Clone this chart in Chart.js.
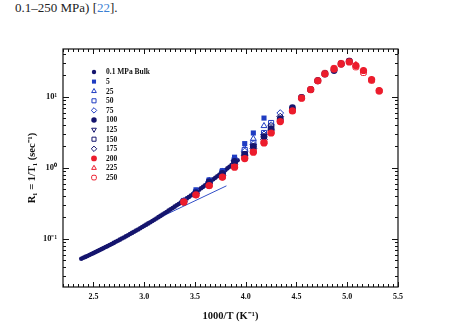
<!DOCTYPE html>
<html>
<head>
<meta charset="utf-8">
<script src="https://cdn.jsdelivr.net/npm/chart.js@4.4.1/dist/chart.umd.min.js"></script>
<style>
  html, body { margin: 0; padding: 0; background: #fff; }
  #wrap { position: absolute; left: 0; top: 0; width: 474px; height: 335px; }
  #caption { position: absolute; left: 15px; top: 0px; font: 13px "Liberation Serif", serif; color: #222; white-space: nowrap; }
  #caption .ref { color: #3b7fd4; }
</style>
</head>
<body>
<div id="caption">0.1–250 MPa) [<span class="ref">22</span>].</div>
<div id="wrap"><canvas id="c"></canvas></div>
<script>
// bulk water, 0.1 MPa (dense curve)
const bulkX = [2.38,2.40,2.42,2.44,2.46,2.48,2.50,2.52,2.54,2.56,2.58,2.60,2.62,2.64,2.66,2.68,2.70,2.72,2.74,2.76,
  2.78,2.80,2.82,2.84,2.86,2.88,2.90,2.92,2.94,2.96,2.98,3.00,3.02,3.04,3.06,3.08,3.10,3.12,3.14,3.16,
  3.18,3.20,3.22,3.24,3.26,3.28,3.30,3.32,3.34,3.36,3.38,3.40,3.42,3.44,3.46,3.48,3.50,3.52,3.54,3.56,
  3.58,3.60,3.62,3.64,3.66,3.68,3.70,3.72,3.74,3.76,3.78,3.80,3.82,3.84,3.86,3.88,3.90,3.92];
const bulkR1 = [0.0525,0.0541,0.0557,0.0574,0.0592,0.0611,0.0630,0.0651,0.0672,0.0694,
  0.0717,0.0741,0.0766,0.0791,0.0819,0.0847,0.0877,0.0908,0.0940,0.0974,
  0.1009,0.1046,0.1085,0.1125,0.1168,0.1212,0.1258,0.1306,0.1357,0.1410,
  0.1465,0.1524,0.1585,0.1650,0.1716,0.1787,0.1861,0.1938,0.2019,0.2104,
  0.2195,0.2289,0.2388,0.2492,0.2602,0.2717,0.2838,0.2966,0.3100,0.3240,
  0.3389,0.3545,0.3710,0.3885,0.4068,0.4259,0.4463,0.4678,0.4905,0.5144,
  0.5396,0.5662,0.5943,0.6241,0.6555,0.6890,0.7241,0.7612,0.8002,0.8420,
  0.8860,0.9326,0.9820,1.034,1.090,1.148,1.211,1.277];

// temperatures measured under pressure (1000/T)
const tempX = [3.39,3.51,3.64,3.77,3.89,3.99,4.075,4.18,4.25,4.34,4.46,4.55,4.64,4.71,4.78,4.87,4.94,5.02,5.085,5.16,5.24,5.315];
const _ = null;
const r1_5   = [0.347,0.490,0.676,0.912,1.41,2.19,3.09,5.01,_,_,_,_,_,_,_,_,_,_,_,_,_,_];
const r1_25  = [0.339,0.468,0.661,0.891,1.32,1.86,2.57,3.89,_,_,_,_,_,_,_,_,_,_,_,_,_,_];
const r1_50  = [0.339,0.457,0.646,0.871,1.29,1.78,2.24,3.09,4.27,_,_,_,_,_,_,_,_,_,_,_,_,_];
const r1_75  = [0.339,0.457,0.646,0.851,1.26,1.70,2.14,2.95,3.98,5.89,_,_,_,_,_,_,_,_,_,_,_,_];
const r1_100 = [0.331,0.447,0.631,0.832,1.23,1.55,2.00,2.75,3.55,4.90,7.00,9.77,12.6,16.8,20.9,23.4,28.8,31.6,_,_,_,_];
const r1_125 = [0.339,0.447,0.617,0.813,1.20,1.58,2.04,2.82,3.63,_,_,_,_,_,_,_,_,_,_,_,_,_];
const r1_150 = [0.331,0.437,0.617,0.794,1.15,1.55,1.91,2.57,3.80,_,_,_,_,_,_,_,_,_,_,_,_,_];
const r1_175 = [0.331,0.437,0.603,0.776,1.12,1.48,1.86,2.51,3.39,5.25,_,_,_,_,_,_,_,_,_,_,_,_];
const r1_200 = [0.331,0.417,0.562,0.741,1.02,1.35,1.66,2.24,3.09,4.47,6.31,9.55,12.6,16.8,20.9,24.5,28.8,30.9,27.5,23.4,17.4,12.2];
const r1_225 = [0.331,0.427,0.575,0.759,1.05,1.41,1.74,2.34,3.24,4.68,6.61,9.66,12.6,16.8,20.9,24.5,28.8,30.9,28.2,23.4,17.4,12.2];
const r1_250 = [0.331,0.417,0.562,0.741,1.05,1.38,1.70,2.29,3.16,4.57,6.46,9.66,12.6,16.8,21.4,25.1,29.5,31.6,26.3,21.9,17.0,12.0];

// Arrhenius fit line
const fitX = [3.05, 3.81];
const fitR1 = [0.170, 0.557];

const xTicks = [2.5, 3.0, 3.5, 4.0, 4.5, 5.0, 5.5];
const yTicks = [0.1, 1, 10];
const yTickLabels = ['10⁻¹', '10⁰', '10¹'];

const NAVY = '#15156e', BLUE = '#1f3cc2', RED = '#ec1c2c';
const SERIF = '"Liberation Serif", "Times New Roman", serif';

function pts(xs, ys) {
  const out = [];
  xs.forEach((x, i) => { if (ys[i] != null) out.push({ x: x, y: ys[i] }); });
  return out;
}

// label, values, colour, style, filled, radius, rotation, draw order (low = on top)
const series = [
  ['5',   r1_5,   BLUE, 'rect', true, 3.6, 0, 3],
  ['25',  r1_25,  BLUE, 'triangle', false, 3.4, 0, 11],
  ['50',  r1_50,  BLUE, 'rect', false, 3.6, 0, 10],
  ['75',  r1_75,  BLUE, 'rectRot', false, 3.4, 0, 9],
  ['100', r1_100, NAVY, 'circle', true, 3.4, 0, 2],
  ['125', r1_125, NAVY, 'triangle', false, 3.4, 180, 8],
  ['150', r1_150, NAVY, 'rect', false, 3.6, 0, 7],
  ['175', r1_175, NAVY, 'rectRot', false, 3.4, 0, 6],
  ['200', r1_200, RED,  'circle', true, 3.6, 0, 1],
  ['225', r1_225, RED,  'triangle', false, 3.4, 0, 5],
  ['250', r1_250, RED,  'rectRounded', false, 3.4, 0, 4],
];

const datasets = [{
  label: '0.1 MPa Bulk',
  data: pts(bulkX, bulkR1),
  pointStyle: 'circle', pointRadius: 2.3, pointBorderWidth: 0,
  backgroundColor: NAVY, borderColor: NAVY, order: 15,
  legendStyle: 'circle', legendRadius: 2.2, legendFilled: true,
}];
series.forEach(s => {
  datasets.push({
    label: s[0],
    data: pts(tempX, s[1]),
    pointStyle: s[3], pointRadius: s[5], pointRotation: s[6],
    pointBorderWidth: s[4] ? 0 : 1,
    backgroundColor: s[4] ? s[2] : '#fff', borderColor: s[2],
    order: s[7],
    legendStyle: s[3], legendRadius: s[5] * 0.8, legendFilled: s[4], legendRot: s[6],
  });
});
datasets.push({
  type: 'line', label: 'fit', data: pts(fitX, fitR1),
  borderColor: '#3350c8', borderWidth: 1, pointRadius: 0, showLine: true, order: 20, inLegend: false,
});

// frame, inward ticks and legend inside the plot
const framePlugin = {
  id: 'frame',
  afterDraw(chart) {
    const ctx = chart.ctx, a = chart.chartArea;
    const xs = chart.scales.x, ys = chart.scales.y;
    ctx.save();
    ctx.strokeStyle = '#111';
    ctx.lineWidth = 1.2;
    ctx.strokeRect(a.left, a.top, a.right - a.left, a.bottom - a.top);
    ctx.lineWidth = 1;
    ctx.beginPath();
    for (let i = 44; i <= 110; i++) {
      const v = i * 0.05;
      if (v < xs.min || v > xs.max) continue;
      const px = Math.round(xs.getPixelForValue(v)) + 0.5;
      const len = i % 10 === 0 ? 5 : 3;
      ctx.moveTo(px, a.bottom); ctx.lineTo(px, a.bottom - len);
      ctx.moveTo(px, a.top); ctx.lineTo(px, a.top + len);
    }
    for (let d = -2; d <= 1; d++) {
      for (let m = 1; m <= 9; m++) {
        const v = m * Math.pow(10, d);
        if (v < ys.min || v > ys.max) continue;
        const py = Math.round(ys.getPixelForValue(v)) + 0.5;
        const len = m === 1 ? 6 : 3;
        ctx.moveTo(a.left, py); ctx.lineTo(a.left + len, py);
        ctx.moveTo(a.right, py); ctx.lineTo(a.right - len, py);
      }
    }
    ctx.stroke();

    // legend
    const drawPoint = Chart.helpers && Chart.helpers.drawPoint;
    let row = 0;
    ctx.font = 'bold 7.5px ' + SERIF;
    ctx.textBaseline = 'middle';
    chart.data.datasets.forEach(ds => {
      if (ds.inLegend === false) return;
      const y = 72 + row * 9.6, x = 94;
      ctx.fillStyle = ds.legendFilled ? ds.borderColor : '#fff';
      ctx.strokeStyle = ds.borderColor;
      ctx.lineWidth = ds.legendFilled ? 0 : 1;
      if (drawPoint) {
        drawPoint(ctx, { pointStyle: ds.legendStyle, radius: ds.legendRadius, borderWidth: ds.legendFilled ? 0 : 1, rotation: ds.legendRot || 0 }, x, y);
      } else {
        ctx.beginPath(); ctx.arc(x, y, ds.legendRadius, 0, Math.PI * 2); ctx.fill(); ctx.stroke();
      }
      ctx.fillStyle = '#111';
      ctx.fillText(ds.label, 106, y + 0.5);
      row++;
    });
    ctx.restore();
  }
};

new Chart(document.getElementById('c'), {
  type: 'scatter',
  data: { datasets: datasets },
  options: {
    responsive: true,
    maintainAspectRatio: false,
    animation: false,
    layout: { padding: { left: 22, right: 76, top: 49, bottom: 8 } },
    plugins: { legend: { display: false }, tooltip: { enabled: false } },
    scales: {
      x: {
        type: 'linear', min: 2.2, max: 5.5,
        afterBuildTicks: s => { s.ticks = xTicks.map(v => ({ value: v })); },
        afterFit: s => { s.height = 40; },
        ticks: { callback: v => v.toFixed(1), color: '#111', padding: 5, maxRotation: 0, autoSkip: false,
                 font: { family: SERIF, size: 8, weight: 'bold' } },
        grid: { display: false, drawTicks: false, tickLength: 0 },
        border: { display: false },
        title: { display: true, text: '1000/T (K⁻¹)', color: '#111', padding: { top: 2, bottom: 4 },
                 font: { family: SERIF, size: 10.5, weight: 'bold' } },
      },
      y: {
        type: 'logarithmic', min: 0.021, max: 47,
        afterBuildTicks: s => { s.ticks = yTicks.map(v => ({ value: v })); },
        afterFit: s => { s.width = 41; },
        ticks: { callback: (v, i) => yTickLabels[i], color: '#111', padding: 6, autoSkip: false,
                 font: { family: SERIF, size: 8.5, weight: 'bold' } },
        grid: { display: false, drawTicks: false, tickLength: 0 },
        border: { display: false },
        title: { display: true, text: 'R₁ = 1/T₁ (sec⁻¹)', color: '#111', padding: { top: 4, bottom: 0 },
                 font: { family: SERIF, size: 10.5, weight: 'bold' } },
      },
    },
  },
  plugins: [framePlugin],
});
</script>
</body>
</html>
